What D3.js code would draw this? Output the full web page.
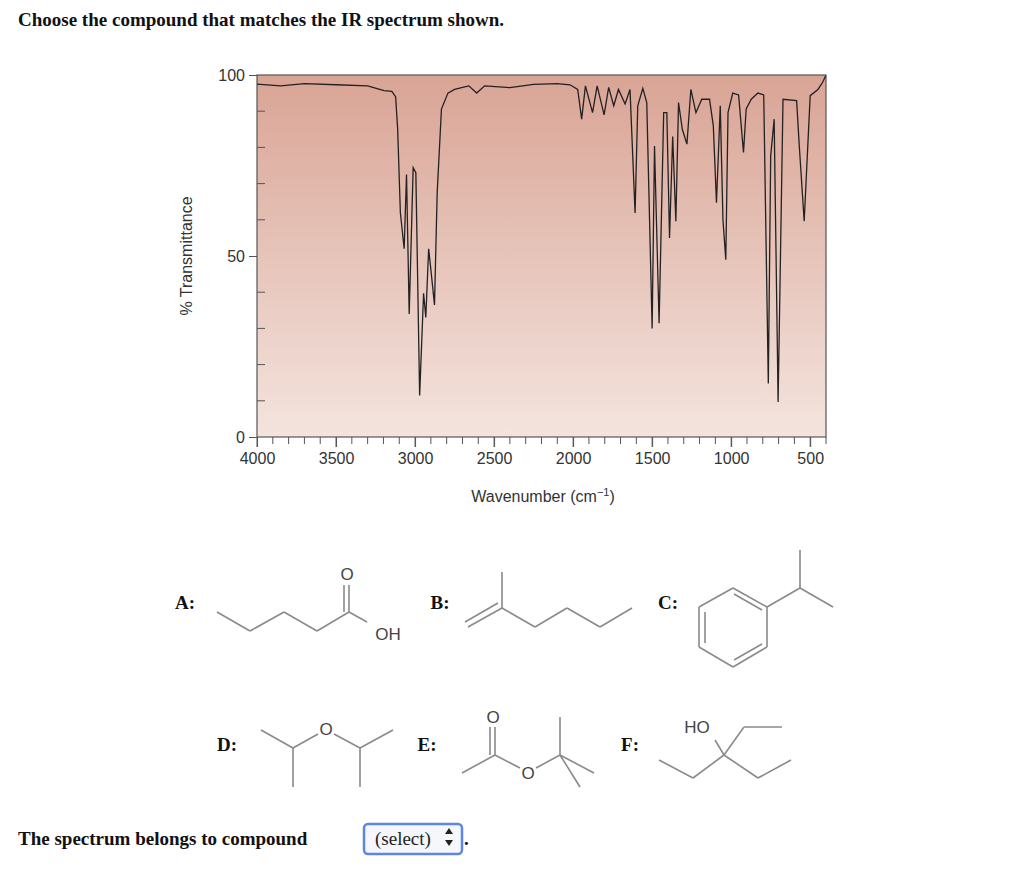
<!DOCTYPE html>
<html lang="en">
<head>
<meta charset="UTF-8">
<title>IR spectrum</title>
<script src="https://d3js.org/d3.v7.min.js"></script>
<style>
  body { margin: 0; background: #fff; }
  .q { font-family: "Liberation Serif", "Times New Roman", serif; font-weight: bold; font-size: 19px; fill: #111; }
  .ax text { font-family: "Liberation Sans", Arial, sans-serif; font-size: 16px; fill: #333; }
  .mol { font-family: "Liberation Sans", Arial, sans-serif; font-size: 17px; fill: #444; }
</style>
</head>
<body>
<svg width="1024" height="885"></svg>
<script>
// spectrum: wavenumber (cm-1) and % transmittance
const wavenumbers = [4000,3850,3700,3500,3300,3196,3147,3123,3110,3093,3069,3054,3037,3012,2995,2971,2946,2932,2914,2897,2877,2860,2833,2792,2750,2660,2610,2560,2400,2250,2100,2020,1971,1946,1922,1877,1848,1804,1775,1743,1713,1671,1640,1608,1591,1559,1534,1500,1485,1456,1427,1407,1390,1370,1350,1333,1309,1280,1255,1223,1186,1137,1113,1093,1069,1052,1034,1020,990,953,922,905,873,831,794,765,750,728,703,672,586,569,538,500,451,421,402];
const transmittance = [97.5,97,97.6,97.3,97,95.7,95.5,94,85,62,52,72.5,34,74.4,73,11.5,39.7,33,52,45,36.5,67.5,90.6,95,96,97,95,97,96.5,97.4,97.6,97.3,96,87.8,97,89.6,97,89,96.6,91.5,96,92,96,61.9,91.5,96.3,92.4,30,80.4,31.4,89.6,89.6,55,83,59.6,92.4,85,80.9,96,89.6,93.3,93.3,86,64.7,91.5,60,49,89.6,95,94.5,78.6,90.6,93.3,95,94.5,14.8,77.6,87.8,9.7,93.3,92.9,80.4,59.6,94.3,96,98,99.8];
const xTicks = [4000,3500,3000,2500,2000,1500,1000,500];
const yTicks = [0,50,100];
const compounds = ["A","B","C","D","E","F"];

const svg = d3.select("svg");
const x = d3.scaleLinear().domain([4000, 400]).range([257, 826]);
const y = d3.scaleLinear().domain([0, 100]).range([437, 75]);

svg.append("text").attr("class", "q").attr("x", 18).attr("y", 26)
  .text("Choose the compound that matches the IR spectrum shown.");

// plot background
const grad = svg.append("defs").append("linearGradient").attr("id", "bg")
  .attr("x1", 0).attr("y1", 0).attr("x2", 0).attr("y2", 1);
grad.append("stop").attr("offset", "0%").attr("stop-color", "#d9a495");
grad.append("stop").attr("offset", "100%").attr("stop-color", "#f4e4de");
svg.append("rect").attr("x", x(4000)).attr("y", y(100))
  .attr("width", x(400) - x(4000)).attr("height", y(0) - y(100))
  .attr("fill", "url(#bg)").attr("stroke", "#555").attr("stroke-width", 1.2);

// minor ticks
svg.append("g").selectAll("line").data(d3.range(4000, 399, -100)).join("line")
  .attr("x1", d => x(d)).attr("x2", d => x(d))
  .attr("y1", y(0)).attr("y2", d => y(0) + (d % 500 === 0 ? 10 : 7))
  .attr("stroke", "#555");
svg.append("g").selectAll("line").data(d3.range(0, 101, 10)).join("line")
  .attr("x1", x(4000)).attr("x2", d => x(4000) + (d % 50 === 0 ? 0 : 8))
  .attr("y1", d => y(d)).attr("y2", d => y(d))
  .attr("stroke", "#555");

const xa = svg.append("g").attr("class", "ax").attr("transform", `translate(0,${y(0)})`)
  .call(d3.axisBottom(x).tickValues(xTicks).tickSize(10).tickPadding(6).tickFormat(d3.format("d")));
const ya = svg.append("g").attr("class", "ax").attr("transform", `translate(${x(4000)},0)`)
  .call(d3.axisLeft(y).tickValues(yTicks).tickSize(8).tickPadding(4));
[xa, ya].forEach(g => { g.select(".domain").remove(); g.selectAll("line").attr("stroke", "#555"); });

svg.append("text").attr("class", "ax").attr("transform", "translate(192,256) rotate(-90)")
  .attr("text-anchor", "middle").style("font-family", "Liberation Sans, Arial, sans-serif")
  .style("font-size", "16px").attr("fill", "#333").text("% Transmittance");
svg.append("text").attr("x", 543).attr("y", 502).attr("text-anchor", "middle")
  .style("font-family", "Liberation Sans, Arial, sans-serif").style("font-size", "16px").attr("fill", "#333")
  .html('Wavenumber (cm<tspan dy="-6" font-size="11">−1</tspan><tspan dy="6">)</tspan>');

svg.append("path").datum(d3.zip(wavenumbers, transmittance))
  .attr("fill", "none").attr("stroke", "#222").attr("stroke-width", 1.3)
  .attr("d", d3.line().x(d => x(d[0])).y(d => y(d[1])));

// structures
const labelPos = { A: [185, 609], B: [440, 609], C: [668, 609], D: [227, 751], E: [427, 751], F: [630, 751] };
svg.append("g").selectAll("text").data(compounds).join("text").attr("class", "q")
  .attr("x", d => labelPos[d][0]).attr("y", d => labelPos[d][1]).attr("text-anchor", "middle")
  .text(d => d + ":");

const bonds = [
  // A
  [217,612,250,631],[250,631,284,612],[284,612,317,631],[317,631,349,612],[349,612,349,585],[344,612,344,585],[349,612,367,622],
  // B
  [502,572,502,608],[502,608,468,627],[498,603,465,622],[502,608,535,627],[535,627,567,608],[567,608,600,627],[600,627,632,608],
  // C
  [733,588,767,607],[767,607,767,647],[767,647,733,667],[733,667,699,647],[699,647,699,607],[699,607,733,588],
  [734,594,762,610],[705,612,705,643],[762,644,734,660],[767,607,800,588],[800,588,800,550],[800,588,833,607],
  // D
  [261,730,293,748],[293,748,293,787],[293,748,318,734],[334,734,360,748],[360,748,360,787],[360,748,393,730],
  // E
  [495,727,495,755],[490,727,490,755],[495,755,462,773],[495,755,520,768],[536,768,560,755],[560,755,560,717],[560,755,594,773],[560,755,580,787],
  // F
  [715,740,724,755],[724,755,744,727],[744,727,782,727],[724,755,693,778],[693,778,659,760],[724,755,758,778],[758,778,791,760]
];
svg.append("g").selectAll("line").data(bonds).join("line")
  .attr("x1", d => d[0]).attr("y1", d => d[1]).attr("x2", d => d[2]).attr("y2", d => d[3])
  .attr("stroke", "#8a8a8a").attr("stroke-width", 1.6);

const atoms = [["O",347,580],["OH",388,640],["O",326,735],["O",493,723],["O",528,779],["HO",697,733]];
svg.append("g").selectAll("text").data(atoms).join("text").attr("class", "mol")
  .attr("x", d => d[1]).attr("y", d => d[2]).attr("text-anchor", "middle").text(d => d[0]);

// answer line
svg.append("text").attr("class", "q").attr("x", 18).attr("y", 845).text("The spectrum belongs to compound");
svg.append("rect").attr("x", 364).attr("y", 824).attr("width", 98).attr("height", 30).attr("rx", 4)
  .attr("fill", "#f6f7fb").attr("stroke", "#5b86e5").attr("stroke-width", 2.5);
svg.append("text").attr("x", 375).attr("y", 845).style("font-family", "Liberation Serif, serif")
  .style("font-size", "19px").attr("fill", "#222").text("(select)");
svg.append("path").attr("d", "M445,834 L449,828 L453,834 Z M445,840 L449,846 L453,840 Z").attr("fill", "#222");
svg.append("text").attr("class", "q").attr("x", 464).attr("y", 845).text(".");
</script>
</body>
</html>
